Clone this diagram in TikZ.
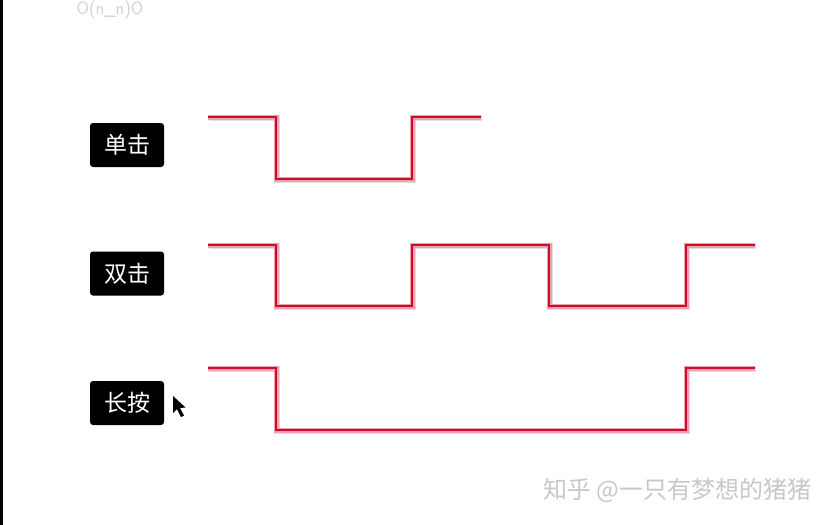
\documentclass[tikz,border=0pt]{standalone}
\usepackage{fontspec}
\newfontfamily\cjk{Noto Sans CJK SC}
\usetikzlibrary{calc}
\definecolor{waveRed}{RGB}{200,16,46}
\definecolor{wavePink}{RGB}{238,160,172}
\definecolor{markGray}{RGB}{200,200,200}
\tikzset{
  keybox/.style={fill=black, rounded corners=3pt, text=white, font=\cjk\fontsize{23}{26}\selectfont,
    minimum width=74pt, minimum height=44pt, inner sep=0pt},
  waveshadow/.style={line width=6.5pt, black!13, miter limit=10},
  waveglow/.style={line width=5pt, wavePink, miter limit=10},
  wave/.style={line width=2.8pt, waveRed, miter limit=10},
}
\begin{document}
\begin{tikzpicture}[x=1pt, y=-1pt]
    \useasboundingbox[fill=white] (0,0) rectangle (836,525);
    % dark strip on the left border
    \fill[black] (0,0) rectangle (3,525);

    % faint watermark at the top
    \node[black!18, font=\fontsize{18}{20}\selectfont\sffamily] (face) at (110,10) {O(n\_n)O};

    % --- LABELS ---
    \node[keybox] (single) at (127,145) {单击};
    \node[keybox] (double) at (127,273.5) {双击};
    \node[keybox] (hold)   at (127,403) {长按};

    % --- WAVEFORMS ---
    \foreach \s/\o in {waveshadow/1, waveglow/0, wave/0}{
        % single click
        \draw[\s, shift={(\o,\o)}] (208,117) -- (276,117) -- (276,179) -- (412,179) -- (412,117) -- (481,117);
        % double click
        \draw[\s, shift={(\o,\o)}] (208,245) -- (276,245) -- (276,306) -- (412,306) -- (412,245)
            -- (549,245) -- (549,306) -- (686,306) -- (686,245) -- (755,245);
        % long press
        \draw[\s, shift={(\o,\o)}] (208,368) -- (276,368) -- (276,430) -- (686,430) -- (686,368) -- (755,368);
    }

    % mouse pointer next to the long press label
    \fill[black] (173,396) -- (173,413) -- (177,409) -- (181,417) -- (184,415.5) -- (180,408) -- (185.5,407.5) -- cycle;

    % watermark at the bottom right
    \node[markGray, font=\cjk\fontsize{24}{28}\selectfont, anchor=east] (mark) at (815,490) {知乎 @一只有梦想的猪猪};
\end{tikzpicture}
\end{document}
